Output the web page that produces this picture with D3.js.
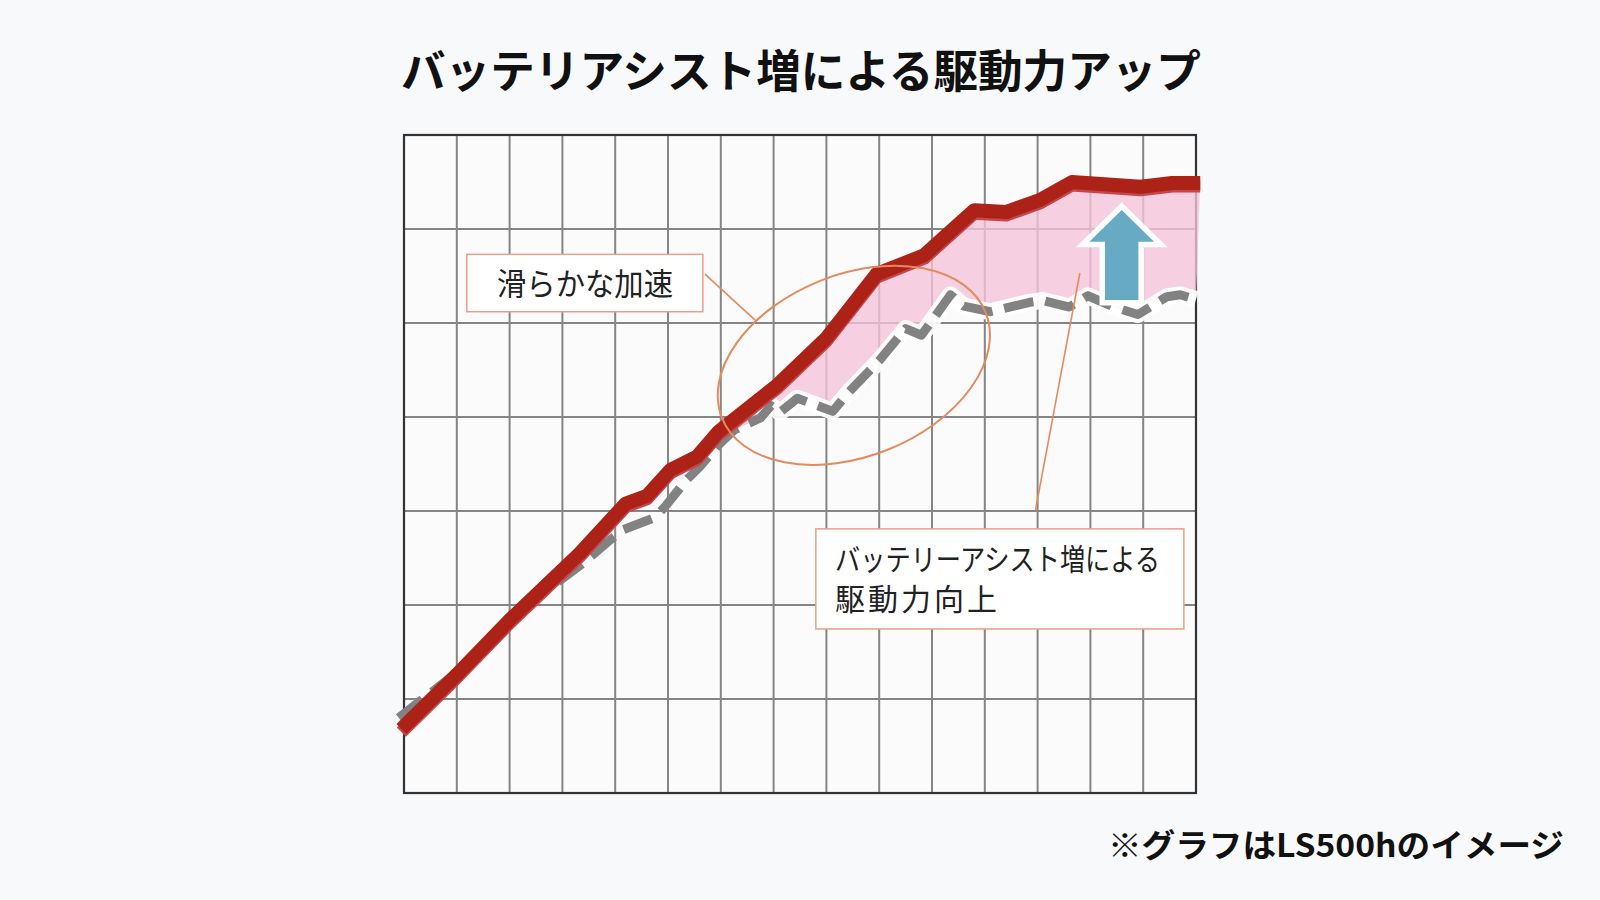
<!DOCTYPE html>
<html><head><meta charset="utf-8">
<script src="https://cdn.jsdelivr.net/npm/d3@7"></script>
<style>
html,body{margin:0;padding:0;background:#f8f9fa;}
svg{display:block;}
text{font-family:"Noto Sans CJK JP","Noto Sans",sans-serif;}
</style></head>
<body>
<script>
// ---- data ----
const titleText = "バッテリアシスト増による駆動力アップ";
const noteText = "※グラフはLS500hのイメージ";
const label1 = ["滑らかな加速"];
const label2 = ["バッテリーアシスト増による", "駆動力向上"];
const xGrid = d3.range(0, 16);   // 15 columns
const yGrid = d3.range(0, 8);    // 7 rows

// assisted drive force (red)
const redX = [-0.05, 1.0, 2.0, 3.33, 4.2, 4.6, 5.05, 5.55, 5.95, 7.05, 8.0, 8.95, 9.85, 10.8, 11.4, 12.05, 12.65, 13.95, 14.55, 15.08];
const redY = [0.68, 1.26, 1.84, 2.55, 3.08, 3.16, 3.44, 3.58, 3.84, 4.33, 4.84, 5.52, 5.72, 6.2, 6.18, 6.31, 6.5, 6.45, 6.49, 6.49];
// conventional drive force (gray dashed)
const grayX = [-0.1, 1.0, 2.0, 3.4, 3.9, 4.15, 4.75, 4.95, 5.35, 5.6, 5.95, 6.25, 6.75, 6.95, 7.12, 7.45, 8.12, 8.4, 9.0, 9.5, 9.8, 10.35, 10.6, 11.1, 11.85, 12.1, 12.6, 12.95, 13.45, 13.9, 14.45, 14.7, 15.0];
const grayY = [0.80, 1.28, 1.86, 2.45, 2.69, 2.80, 2.93, 3.05, 3.33, 3.47, 3.70, 3.86, 3.99, 4.12, 4.05, 4.2, 4.06, 4.25, 4.6, 4.94, 4.87, 5.30, 5.18, 5.12, 5.22, 5.24, 5.17, 5.29, 5.17, 5.09, 5.28, 5.30, 5.25];
const fillFrom = 5.95;

// ---- layout ----
const W = 1600, H = 900;
const plot = {left: 404, right: 1196, top: 135, bottom: 793};
const x = d3.scaleLinear().domain([0, 15]).range([plot.left, plot.right]);
const y = d3.scaleLinear().domain([0, 7]).range([plot.bottom, plot.top]);

const svg = d3.select("body").append("svg").attr("width", W).attr("height", H);
svg.append("rect").attr("width", W).attr("height", H).attr("fill", "#f8f9fa");

// title
svg.append("text").attr("x", 401).attr("y", 88)
  .attr("font-size", 45).attr("font-weight", 700).attr("fill", "#111")
  .attr("textLength", 800).attr("lengthAdjust", "spacingAndGlyphs")
  .text(titleText);

// plot background
svg.append("rect").attr("x", plot.left).attr("y", plot.top)
  .attr("width", plot.right - plot.left).attr("height", plot.bottom - plot.top)
  .attr("fill", "#fbfbfb");

// grid
const grid = svg.append("g").attr("stroke", "#858585").attr("stroke-width", 2);
grid.selectAll(".vx").data(xGrid.slice(1, -1)).join("line")
  .attr("x1", d => x(d)).attr("x2", d => x(d)).attr("y1", plot.top).attr("y2", plot.bottom);
grid.selectAll(".hy").data(yGrid.slice(1, -1)).join("line")
  .attr("y1", d => y(d)).attr("y2", d => y(d)).attr("x1", plot.left).attr("x2", plot.right);

// border
svg.append("rect").attr("x", plot.left).attr("y", plot.top)
  .attr("width", plot.right - plot.left).attr("height", plot.bottom - plot.top)
  .attr("fill", "none").attr("stroke", "#333").attr("stroke-width", 2.2);

const red = redX.map((v, i) => [v, redY[i]]);
const gray = grayX.map((v, i) => [v, grayY[i]]);
const line = d3.line().x(d => x(d[0])).y(d => y(d[1]));

// pink difference area
const poly = red.filter(d => d[0] >= fillFrom).concat(gray.filter(d => d[0] >= fillFrom).reverse());
svg.append("path").attr("d", line(poly) + "Z")
  .attr("fill", "#f5c3da").attr("fill-opacity", 0.78);

// gray dashed line with white halo (halo only where the lines separate)
svg.append("path").attr("d", line(gray.filter(d => d[0] >= 6.6))).attr("fill", "none")
  .attr("stroke", "#ffffff").attr("stroke-opacity", 0.9).attr("stroke-width", 17)
  .attr("stroke-linejoin", "round");
svg.append("path").attr("d", line(gray)).attr("fill", "none")
  .attr("stroke", "#828282").attr("stroke-width", 9)
  .attr("stroke-dasharray", "30,12").attr("stroke-linejoin", "round");

// red line (lighter lower edge + main)
svg.append("path").attr("d", line(red)).attr("fill", "none")
  .attr("transform", "translate(0,3)")
  .attr("stroke", "#c5464b").attr("stroke-width", 13).attr("stroke-linejoin", "round");
svg.append("path").attr("d", line(red)).attr("fill", "none")
  .attr("stroke", "#ad2217").attr("stroke-width", 14).attr("stroke-linejoin", "round");

// ellipse highlight
const ann = "#e38a5f";
svg.append("ellipse").attr("cx", x(8.52)).attr("cy", y(4.55)).attr("rx", 142).attr("ry", 91)
  .attr("transform", `rotate(-21.8,${x(8.52)},${y(4.55)})`)
  .attr("fill", "none").attr("stroke", ann).attr("stroke-width", 2);

// leader lines
svg.append("line").attr("x1", x(5.70)).attr("y1", y(5.52)).attr("x2", x(6.65)).attr("y2", y(5.03))
  .attr("stroke", ann).attr("stroke-width", 1.6);
svg.append("line").attr("x1", x(12.80)).attr("y1", y(5.53)).attr("x2", x(11.96)).attr("y2", y(3.01))
  .attr("stroke", ann).attr("stroke-width", 1.6);

// label boxes
svg.append("rect").attr("x", x(1.19)).attr("y", y(5.73))
  .attr("width", x(5.66) - x(1.19)).attr("height", y(5.12) - y(5.73))
  .attr("fill", "#fff").attr("stroke", "#e6a088").attr("stroke-width", 1.5);
svg.append("text").attr("x", 497).attr("y", 295).attr("font-size", 31).attr("fill", "#222")
  .attr("textLength", 176).attr("lengthAdjust", "spacingAndGlyphs").text(label1[0]);

svg.append("rect").attr("x", x(7.8)).attr("y", y(2.81))
  .attr("width", x(14.77) - x(7.8)).attr("height", y(1.745) - y(2.81))
  .attr("fill", "#fff").attr("stroke", "#e6a088").attr("stroke-width", 1.5);
svg.append("text").attr("x", 835).attr("y", 570).attr("font-size", 30).attr("fill", "#222")
  .attr("textLength", 325).attr("lengthAdjust", "spacingAndGlyphs").text(label2[0]);
svg.append("text").attr("x", 835).attr("y", 610).attr("font-size", 30).attr("fill", "#222")
  .attr("textLength", 162).attr("lengthAdjust", "spacing").text(label2[1]);

// blue up arrow
const ax = 13.593, aTop = 6.202, aBase = 5.865, aBot = 5.245, headHalf = 0.613, shaftHalf = 0.316;
const arrowPts = [[ax, aTop], [ax + headHalf, aBase], [ax + shaftHalf, aBase], [ax + shaftHalf, aBot],
  [ax - shaftHalf, aBot], [ax - shaftHalf, aBase], [ax - headHalf, aBase]];
svg.append("path").attr("d", line(arrowPts) + "Z").attr("fill", "#fff")
  .attr("stroke", "#fff").attr("stroke-width", 11).attr("stroke-linejoin", "miter");
svg.append("path").attr("d", line(arrowPts) + "Z").attr("fill", "#67aac4");

// footnote
svg.append("text").attr("x", 1564).attr("y", 857).attr("text-anchor", "end")
  .attr("font-size", 32).attr("font-weight", 700).attr("fill", "#111")
  .attr("textLength", 456).attr("lengthAdjust", "spacingAndGlyphs")
  .text(noteText);
</script>
</body></html>
